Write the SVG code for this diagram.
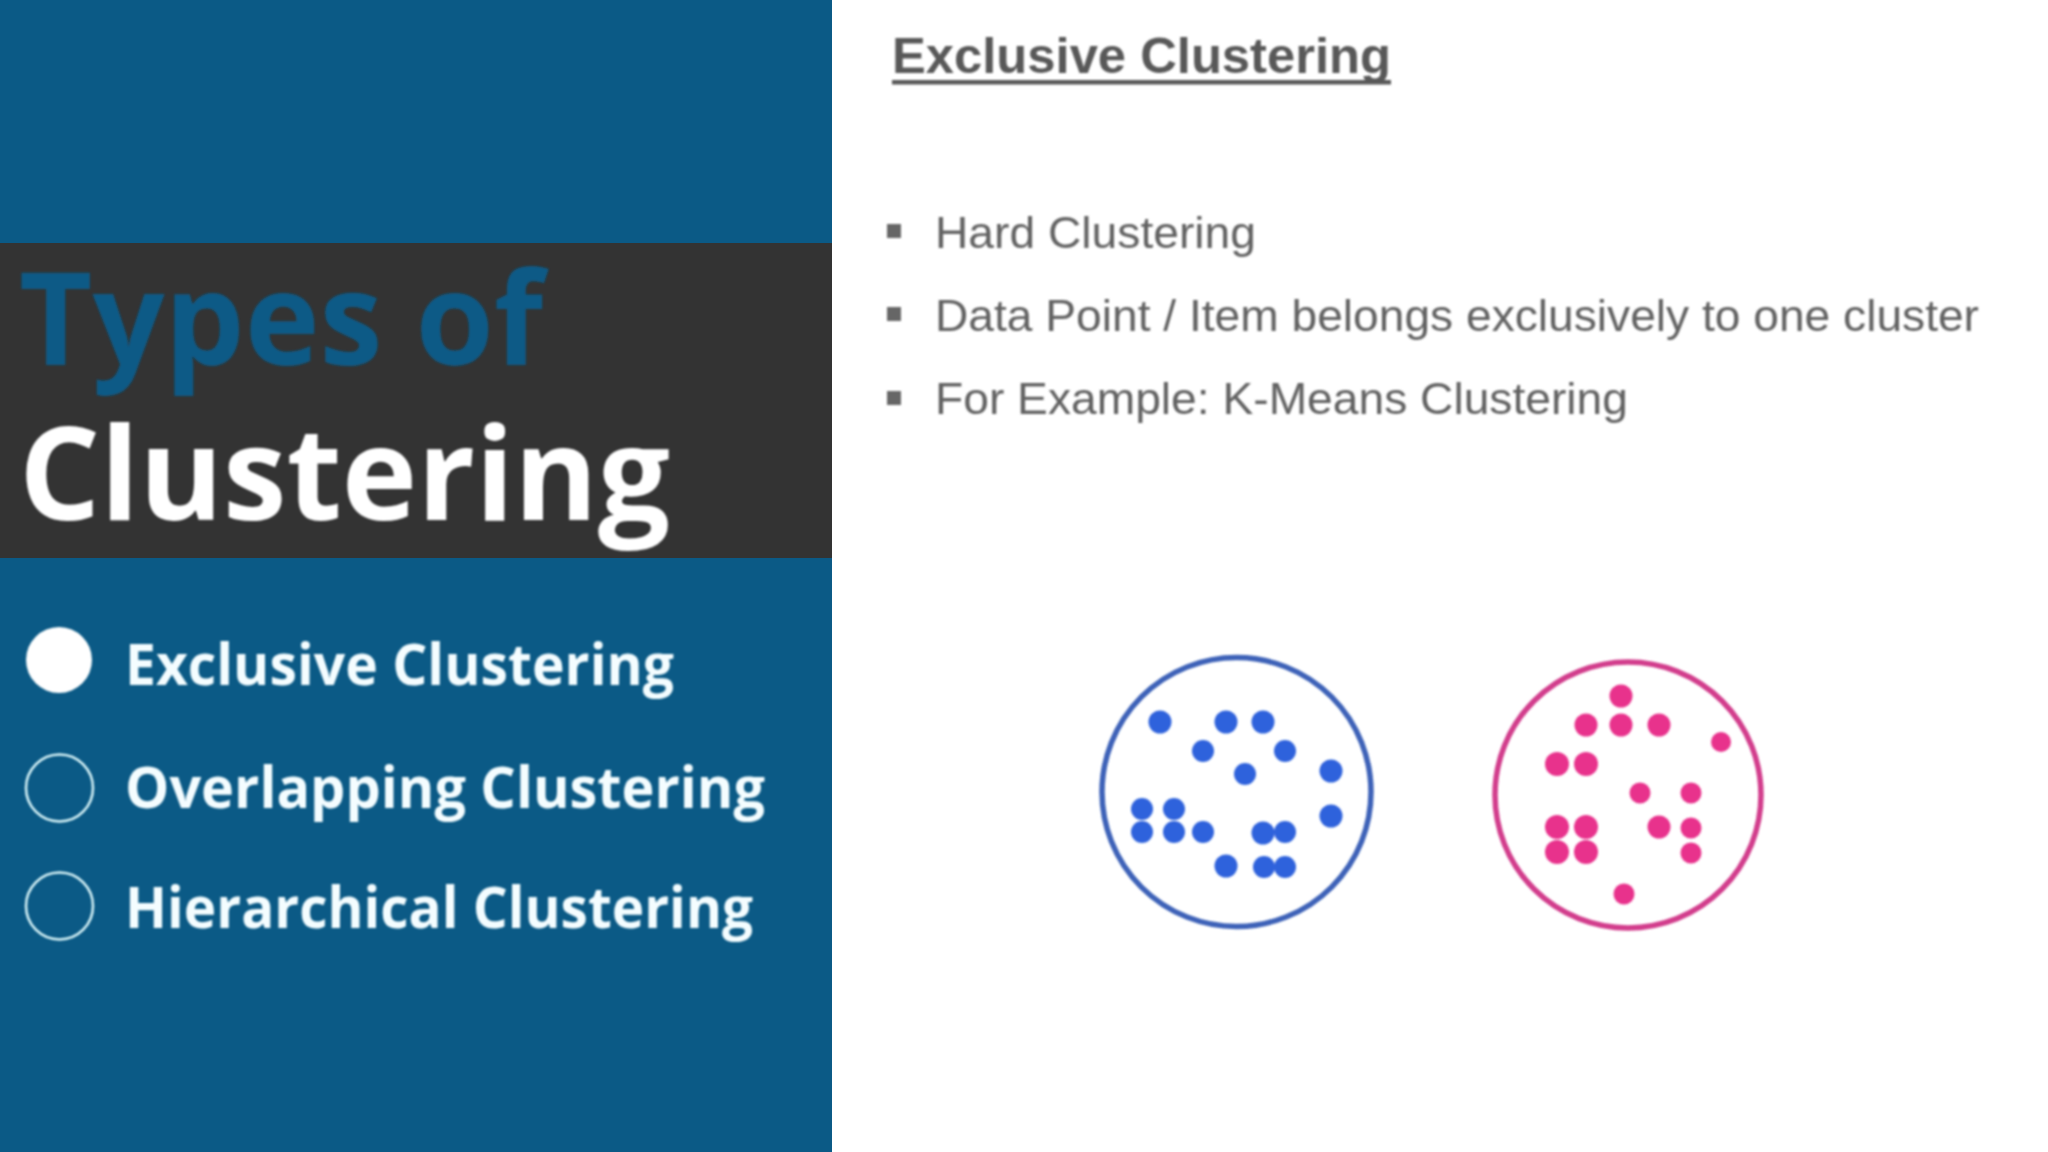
<svg xmlns="http://www.w3.org/2000/svg" width="2048" height="1152" viewBox="0 0 2048 1152">
<defs>
<filter id="soft" x="-5%" y="-5%" width="110%" height="110%"><feGaussianBlur stdDeviation="0.9"/></filter>
</defs>
<style>
.side{font-family:"Open Sans","Noto Sans",sans-serif;font-weight:700}
.item{font-size:58px;fill:#f4fdff}
.big{font-size:130px}
.body{font-family:"Liberation Sans",Arial,sans-serif;font-size:44px;fill:#626262}
.head{font-family:"Liberation Sans",Arial,sans-serif;font-size:50px;font-weight:700;fill:#595959}
.ring{fill:none;stroke:#d8f4f8;stroke-width:2.5}
.b{fill:#2f62dc}
.p{fill:#e8318c}
.bul{fill:#666666}
</style>
<rect id="background" width="2048" height="1152" fill="#ffffff"/>
<g id="sidebar">
<rect width="832" height="1152" fill="#0b5a86"/>
<rect y="243" width="832" height="315" fill="#333333"/>
<g filter="url(#soft)">
<text class="side big" x="19" y="365" fill="#0b5a86" textLength="524" lengthAdjust="spacingAndGlyphs">Types of</text>
<text class="side big" x="19" y="520" fill="#ffffff" textLength="651" lengthAdjust="spacingAndGlyphs">Clustering</text>
</g>
</g>
<g id="item-exclusive" filter="url(#soft)">
<ellipse cx="59" cy="660" rx="33" ry="33" fill="#ffffff"/>
<text class="side item" x="125" y="685" textLength="549" lengthAdjust="spacingAndGlyphs">Exclusive Clustering</text>
</g>
<g id="item-overlapping" filter="url(#soft)">
<circle class="ring" cx="59.500" cy="788" r="33.500"/>
<text class="side item" x="125" y="808" textLength="640" lengthAdjust="spacingAndGlyphs">Overlapping Clustering</text>
</g>
<g id="item-hierarchical" filter="url(#soft)">
<circle class="ring" cx="59.500" cy="906" r="33.500"/>
<text class="side item" x="125" y="928" textLength="628" lengthAdjust="spacingAndGlyphs">Hierarchical Clustering</text>
</g>
<g id="content" filter="url(#soft)">
<text class="head" x="892" y="73" textLength="499" lengthAdjust="spacingAndGlyphs">Exclusive Clustering</text>
<rect x="892" y="80" width="499" height="4.500" fill="#595959"/>
<rect class="bul" x="887" y="224" width="14" height="14"/>
<text class="body" x="935" y="247.500" textLength="321" lengthAdjust="spacingAndGlyphs">Hard Clustering</text>
<rect class="bul" x="887" y="307" width="14" height="14"/>
<text class="body" x="935" y="331" textLength="1044" lengthAdjust="spacingAndGlyphs">Data Point / Item belongs exclusively to one cluster</text>
<rect class="bul" x="887" y="391" width="14" height="14"/>
<text class="body" x="935" y="414" textLength="693" lengthAdjust="spacingAndGlyphs">For Example: K-Means Clustering</text>
</g>
<g id="cluster-blue" filter="url(#soft)">
<circle cx="1236.500" cy="792" r="134.500" fill="none" stroke="#3d62b8" stroke-width="5.500"/>
<g class="b">
<circle cx="1160" cy="722" r="11.500"/><circle cx="1226" cy="722" r="11.500"/><circle cx="1263" cy="722" r="11.500"/>
<circle cx="1203" cy="751" r="11"/><circle cx="1285" cy="751" r="11"/><circle cx="1245" cy="774" r="11"/>
<circle cx="1331" cy="771" r="11.500"/><circle cx="1331" cy="816" r="11.500"/>
<circle cx="1142" cy="809" r="11"/><circle cx="1174" cy="809" r="11"/>
<circle cx="1142" cy="832" r="11"/><circle cx="1174" cy="832" r="11"/><circle cx="1203" cy="832" r="11"/>
<circle cx="1263" cy="833" r="11.500"/><circle cx="1285" cy="832" r="11"/>
<circle cx="1226" cy="866" r="11.500"/><circle cx="1264" cy="867" r="11"/><circle cx="1285" cy="867" r="11"/>
</g>
</g>
<g id="cluster-pink" filter="url(#soft)">
<circle cx="1628" cy="795" r="133" fill="none" stroke="#d23c8c" stroke-width="5.500"/>
<g class="p">
<circle cx="1621" cy="696" r="11.500"/><circle cx="1586" cy="725" r="11.500"/><circle cx="1621" cy="725" r="11.500"/><circle cx="1659" cy="725" r="11.500"/>
<circle cx="1721" cy="742" r="10"/>
<circle cx="1557" cy="764" r="12"/><circle cx="1586" cy="764" r="12"/>
<circle cx="1640" cy="793" r="10.500"/><circle cx="1691" cy="793" r="10.500"/>
<circle cx="1557" cy="827" r="12"/><circle cx="1586" cy="827" r="12"/><circle cx="1659" cy="827" r="11.500"/><circle cx="1691" cy="828" r="10.500"/>
<circle cx="1557" cy="852" r="12"/><circle cx="1586" cy="852" r="12"/><circle cx="1691" cy="853" r="10.500"/>
<circle cx="1624" cy="894" r="10.500"/>
</g>
</g>
</svg>
